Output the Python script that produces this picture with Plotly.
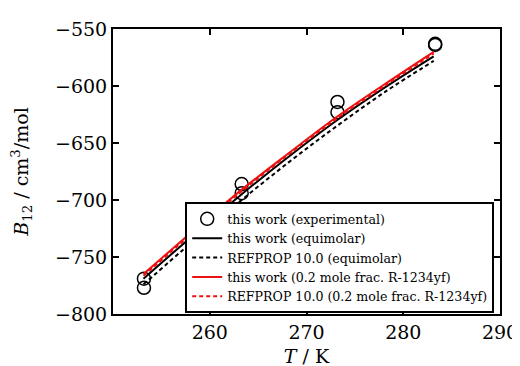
import plotly.graph_objects as go

# Experimental data
T_exp = [253.2, 253.2, 263.3, 263.3, 273.2, 273.2, 283.3, 283.3]
B_exp = [-769, -777, -686, -694, -614, -623, -563, -564]

# Model curves
T_line = [253.15, 258.15, 263.15, 268.15, 273.15, 278.15, 283.15]
B_work_eq = [-769, -732, -696, -662, -630, -601, -574]
B_ref_eq = [-774, -737, -701, -667, -635, -605, -578]
B_work_02 = [-765, -728, -692, -659, -627, -598, -570]
B_ref_02 = [-766.5, -729.5, -693.5, -660, -628.5, -599.5, -571.5]

x_ticks = [260, 270, 280, 290]
y_ticks = [-800, -750, -700, -650, -600, -550]

FONT = "DejaVu Serif"

fig = go.Figure()
fig.add_trace(go.Scatter(x=T_exp, y=B_exp, mode="markers", name="this work (experimental)",
                         marker=dict(symbol="circle-open", size=13, color="black",
                                     line=dict(width=1.5, color="black"))))
fig.add_trace(go.Scatter(x=T_line, y=B_work_eq, mode="lines", name="this work (equimolar)",
                         line=dict(color="black", width=2, shape="spline")))
fig.add_trace(go.Scatter(x=T_line, y=B_ref_eq, mode="lines", name="REFPROP 10.0 (equimolar)",
                         line=dict(color="black", width=2, dash="4px,3px", shape="spline")))
fig.add_trace(go.Scatter(x=T_line, y=B_work_02, mode="lines", name="this work (0.2 mole frac. R-1234yf)",
                         line=dict(color="#ee1111", width=2, shape="spline")))
fig.add_trace(go.Scatter(x=T_line, y=B_ref_02, mode="lines", name="REFPROP 10.0 (0.2 mole frac. R-1234yf)",
                         line=dict(color="#ee1111", width=2, dash="4px,3px", shape="spline")))

axis_common = dict(showgrid=False, zeroline=False, showline=True, linecolor="black", linewidth=2,
                   mirror="ticks", ticks="inside", ticklen=6, tickwidth=1.5, tickcolor="black",
                   ticklabeloverflow="allow",
                   tickfont=dict(family=FONT, size=19, color="black"))

fig.update_xaxes(range=[250, 290], tickvals=x_ticks, ticktext=[str(v) for v in x_ticks],
                 title=dict(text="<i>T</i> / K", font=dict(family=FONT, size=19, color="black"),
                            standoff=8), **axis_common)
fig.update_yaxes(range=[-800, -550], tickvals=y_ticks,
                 ticktext=["\u2212" + str(abs(v)) for v in y_ticks],
                 title=dict(text="<i>B</i><sub>12</sub> / cm<sup>3</sup>/mol",
                            font=dict(family=FONT, size=19, color="black"), standoff=24),
                 **axis_common)

fig.update_layout(
    width=520, height=366,
    margin=dict(l=100, r=18, t=10, b=56),
    plot_bgcolor="white", paper_bgcolor="white",
    font=dict(family=FONT, color="black"),
    legend=dict(x=0.985, y=0.003, xanchor="right", yanchor="bottom",
                bgcolor="white", bordercolor="black", borderwidth=2,
                font=dict(family=FONT, size=12.6, color="black"),
                tracegroupgap=0, itemwidth=30),
)

fig.write_html("out.html")
